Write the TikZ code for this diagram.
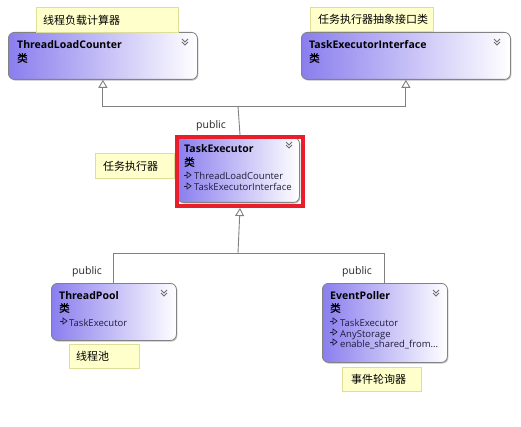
\documentclass[tikz,border=0pt]{standalone}
\usepackage{fontspec}
\setmainfont{Open Sans}
\newfontfamily\cjk{Noto Sans CJK SC}
\newfontfamily\cjkb[FakeBold=1.5]{Noto Sans CJK SC}
\usetikzlibrary{arrows.meta,shadows}
\definecolor{boxl}{RGB}{138,126,238}
\definecolor{boxb}{RGB}{130,130,130}
\definecolor{notef}{RGB}{255,255,204}
\definecolor{noted}{RGB}{222,222,150}
\definecolor{selred}{RGB}{232,30,42}
\definecolor{linec}{RGB}{128,128,128}
\definecolor{membc}{RGB}{30,30,60}
\definecolor{chevc}{RGB}{110,110,110}
\newcommand{\chevat}[2]{%
  \draw[chev] (#1-3,#2-3) -- (#1,#2) -- (#1+3,#2-3);
  \draw[chev] (#1-3,#2) -- (#1,#2+3) -- (#1+3,#2);}
\newcommand{\membicon}[2]{%
  \draw[micon] (#1,#2-5) -- (#1+3,#2-5);
  \draw[micon] (#1+3,#2-8) -- (#1+3,#2-2) -- (#1+7,#2-5) -- cycle;}
\begin{document}
\begin{tikzpicture}[x=1pt,y=-1pt,
  classbox/.style={draw=boxb, line width=0.8pt, rounded corners=6pt,
    left color=boxl, right color=white, inner sep=0pt, anchor=north west,
    drop shadow={shadow xshift=1pt, shadow yshift=-1.2pt, opacity=0.25, fill=black}},
  notebox/.style={draw=noted, line width=0.8pt, fill=notef, inner sep=0pt, anchor=north west},
  notetext/.style={font=\cjk\fontsize{11}{13}\selectfont, text=black, inner sep=0pt, anchor=west},
  titletext/.style={font=\bfseries\fontsize{10.5}{12}\selectfont, text=black, inner sep=0pt, anchor=base west},
  kindtext/.style={font=\cjkb\fontsize{10.5}{12}\selectfont, text=black, inner sep=0pt, anchor=base west},
  membtext/.style={font=\fontsize{9.5}{11}\selectfont, text=membc, inner sep=0pt, anchor=base west},
  pubtext/.style={font=\fontsize{10.5}{12}\selectfont, text=black!85, inner sep=0pt, anchor=base west},
  conn/.style={draw=linec, line width=0.9pt},
  inh/.style={conn, -{Triangle[width=9pt, length=8pt, fill=white, line width=0.9pt]}},
  chev/.style={draw=chevc, line width=0.8pt},
  micon/.style={draw=membc, line width=0.7pt},
]
\useasboundingbox (0,0) rectangle (521,427);
\fill[white] (0,0) rectangle (521,427);

% ---- class boxes ----
\node[classbox, minimum width=189pt, minimum height=47pt] (tlc) at (8,32) {};
\node[classbox, minimum width=209pt, minimum height=47pt] (tei) at (301,32) {};
\node[classbox, minimum width=122pt, minimum height=65pt] (te) at (177,137) {};
\node[draw=selred, line width=4pt, minimum width=126pt, minimum height=69pt,
      anchor=north west, inner sep=0pt, outer sep=2pt] (tesel) at (175,135) {};
\node[classbox, minimum width=125pt, minimum height=57pt] (tp) at (51,283) {};
\node[classbox, minimum width=125pt, minimum height=79pt] (ep) at (322,283) {};

% ---- titles ----
\node[titletext] (tlct) at (17,49) {ThreadLoadCounter};
\node[kindtext] (tlck) at (17,62) {类};
\node[titletext] (teit) at (309,49) {TaskExecutorInterface};
\node[kindtext] (teik) at (309,62) {类};
\node[titletext] (tet) at (184,153) {TaskExecutor};
\node[kindtext] (tek) at (184,166) {类};
\node[titletext] (tpt) at (59,299) {ThreadPool};
\node[kindtext] (tpk) at (59,312) {类};
\node[titletext] (ept) at (330,299) {EventPoller};
\node[kindtext] (epk) at (330,312) {类};

% ---- members ----
\membicon{184}{180}
\node[membtext] (tem1) at (194,180) {ThreadLoadCounter};
\membicon{184}{191}
\node[membtext] (tem2) at (194,191) {TaskExecutorInterface};
\membicon{60}{326}
\node[membtext] (tpm1) at (69,326) {TaskExecutor};
\membicon{330}{326}
\node[membtext] (epm1) at (340,326) {TaskExecutor};
\membicon{330}{337}
\node[membtext] (epm2) at (340,337) {AnyStorage};
\membicon{330}{347}
\node[membtext] (epm3) at (340,347) {enable\_shared\_from...};

% ---- chevrons ----
\chevat{185}{42}
\chevat{497}{42}
\chevat{289}{145}
\chevat{164}{293}
\chevat{436}{293}

% ---- notes ----
\node[notebox, minimum width=142pt, minimum height=25pt] (n1) at (36,7) {};
\node[notetext] (n1t) at ([xshift=7pt]n1.west) {线程负载计算器};
\node[notebox, minimum width=123pt, minimum height=24pt] (n2) at (310,7) {};
\node[notetext] (n2t) at ([xshift=8pt]n2.west) {任务执行器抽象接口类};
\node[notebox, minimum width=79pt, minimum height=25pt] (n3) at (95,153) {};
\node[notetext] (n3t) at ([xshift=8pt]n3.west) {任务执行器};
\node[notebox, minimum width=70pt, minimum height=24pt] (n4) at (69,344) {};
\node[notetext] (n4t) at ([xshift=7pt]n4.west) {线程池};
\node[notebox, minimum width=79pt, minimum height=24pt] (n5) at (342,367) {};
\node[notetext] (n5t) at ([xshift=9pt]n5.west) {事件轮询器};

% ---- connectors ----
\coordinate (j1) at (238,106);
\coordinate (j2) at (238,253);
\draw[conn] (tesel.north) -- (j1);
\draw[inh] (j1) -| (tlc.south);
\draw[inh] (j1) -| (tei.south);
\draw[inh] (j2) -- (tesel.south);
\draw[conn] (tp.north) |- (j2);
\draw[conn] (ep.north) |- (j2);

% ---- labels ----
\node[pubtext] (pub1) at (196,129) {public};
\node[pubtext] (pub2) at (72,274) {public};
\node[pubtext] (pub3) at (342,274) {public};
\end{tikzpicture}
\end{document}
